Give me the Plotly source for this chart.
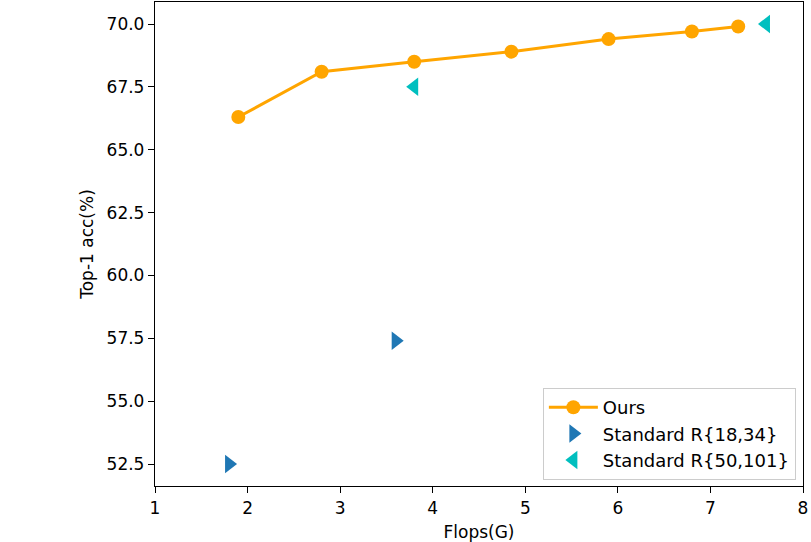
import plotly.graph_objects as go

ours_x = [1.9, 2.8, 3.8, 4.85, 5.9, 6.8, 7.3]
ours_y = [66.3, 68.1, 68.5, 68.9, 69.4, 69.7, 69.9]
std_small_x = [1.8, 3.6]
std_small_y = [52.5, 57.4]
std_large_x = [3.8, 7.6]
std_large_y = [67.5, 70.0]
x_ticks = [1, 2, 3, 4, 5, 6, 7, 8]
y_ticks = [52.5, 55.0, 57.5, 60.0, 62.5, 65.0, 67.5, 70.0]

fig = go.Figure()
fig.add_trace(go.Scatter(x=ours_x, y=ours_y, mode="lines+markers", name="Ours",
                         line=dict(color="#FFA500", width=3),
                         marker=dict(color="#FFA500", size=14, symbol="circle")))
fig.add_trace(go.Scatter(x=std_small_x, y=std_small_y, mode="markers", name="Standard R{18,34}",
                         marker=dict(color="#1f77b4", size=16, symbol="triangle-right")))
fig.add_trace(go.Scatter(x=std_large_x, y=std_large_y, mode="markers", name="Standard R{50,101}",
                         marker=dict(color="#00BFBF", size=16, symbol="triangle-left")))

axis_common = dict(showline=True, linecolor="black", linewidth=1.3, mirror=True,
                   ticks="outside", ticklen=6, tickwidth=1.3, tickcolor="black",
                   showgrid=False, zeroline=False,
                   tickfont=dict(family="DejaVu Sans", size=17, color="black"))

fig.update_layout(
    width=811, height=542,
    margin=dict(l=155, r=8, t=2, b=56),
    paper_bgcolor="white", plot_bgcolor="white",
    font=dict(family="DejaVu Sans", size=17, color="black"),
    xaxis=dict(range=[1, 8], tickvals=x_ticks, ticktext=[str(v) for v in x_ticks],
               title=dict(text="Flops(G)", font=dict(size=17), standoff=9), **axis_common),
    yaxis=dict(range=[51.625, 70.875], tickvals=y_ticks, ticktext=[f"{v:.1f}" for v in y_ticks],
               title=dict(text="Top-1 acc(%)", font=dict(size=17), standoff=8), **axis_common),
    legend=dict(x=0.989, y=0.0124, xanchor="right", yanchor="bottom",
                bgcolor="white", bordercolor="#cccccc", borderwidth=1,
                font=dict(size=18), itemwidth=49, tracegroupgap=0),
    showlegend=True,
)

fig.write_html("out.html", config={"displayModeBar": False},
               post_script="document.body.style.margin='0px';document.body.style.padding='0px';")
